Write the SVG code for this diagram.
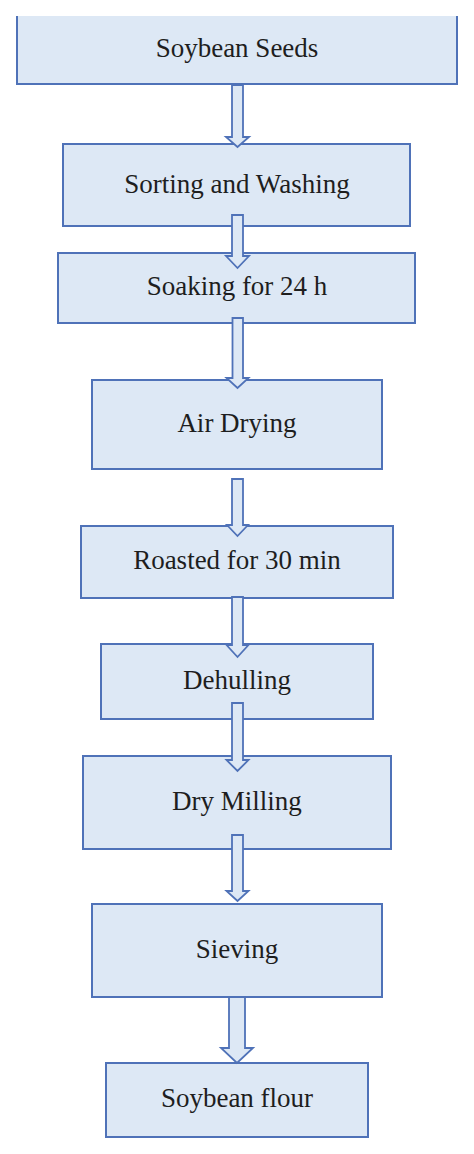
<svg xmlns="http://www.w3.org/2000/svg" width="474" height="1154" viewBox="0 0 474 1154">
<style>
.box{fill:#dde8f5;stroke:#4f72b8;stroke-width:2}
.arr{fill:#dde8f5;stroke:#4f72b8;stroke-width:1.8;stroke-linejoin:miter}
text{font-family:"Liberation Serif","Times New Roman",serif;font-size:27px;fill:#1e1e1e;text-anchor:middle}
</style>
<rect width="474" height="1154" fill="#ffffff"/>
<g id="node-soybean-seeds">
<rect x="17" y="16" width="440" height="68" fill="#dde8f5"/>
<path d="M17,16 V84 H457 V16" fill="none" stroke="#4f72b8" stroke-width="2"/>
<text x="237" y="57">Soybean Seeds</text>
</g>
<g id="node-sorting">
<rect class="box" x="63" y="144" width="347" height="82"/>
<text x="237" y="193">Sorting and Washing</text>
</g>
<g id="node-soaking">
<rect class="box" x="58" y="253" width="357" height="70"/>
<text x="237" y="295">Soaking for 24 h</text>
</g>
<g id="node-air-drying">
<rect class="box" x="92" y="380" width="290" height="89"/>
<text x="237" y="432">Air Drying</text>
</g>
<g id="node-roasted">
<rect class="box" x="81" y="526" width="312" height="72"/>
<text x="237" y="569">Roasted for 30 min</text>
</g>
<g id="node-dehulling">
<rect class="box" x="101" y="644" width="272" height="75"/>
<text x="237" y="689">Dehulling</text>
</g>
<g id="node-dry-milling">
<rect class="box" x="83" y="756" width="308" height="93"/>
<text x="237" y="810">Dry Milling</text>
</g>
<g id="node-sieving">
<rect class="box" x="92" y="904" width="290" height="93"/>
<text x="237" y="958">Sieving</text>
</g>
<g id="node-soybean-flour">
<rect class="box" x="106" y="1063" width="262" height="74"/>
<text x="237" y="1107">Soybean flour</text>
</g>
<g id="connectors">
<path class="arr" d="M232,85 H243 V137 H249 L237.5,147 L226,137 H232 Z"/>
<path class="arr" d="M232,215 H243 V256 H249 L237.5,268 L226,256 H232 Z"/>
<path class="arr" d="M232.5,318 H243 V378 H248.5 L237.5,388 L226.5,378 H232.5 Z"/>
<path class="arr" d="M232,479 H243 V525 H248 L237.5,536 L227,525 H232 Z"/>
<path class="arr" d="M232,597 H243 V645 H248.5 L237.5,657 L226.5,645 H232 Z"/>
<path class="arr" d="M232,703 H243 V760 H248.5 L237.5,771 L226.5,760 H232 Z"/>
<path class="arr" d="M232,835 H243 V891 H248.5 L237.5,901 L226.5,891 H232 Z"/>
<path class="arr" d="M229,997 H245 V1048 H253 L237,1063 L221,1048 H229 Z"/>
</g>
</svg>
